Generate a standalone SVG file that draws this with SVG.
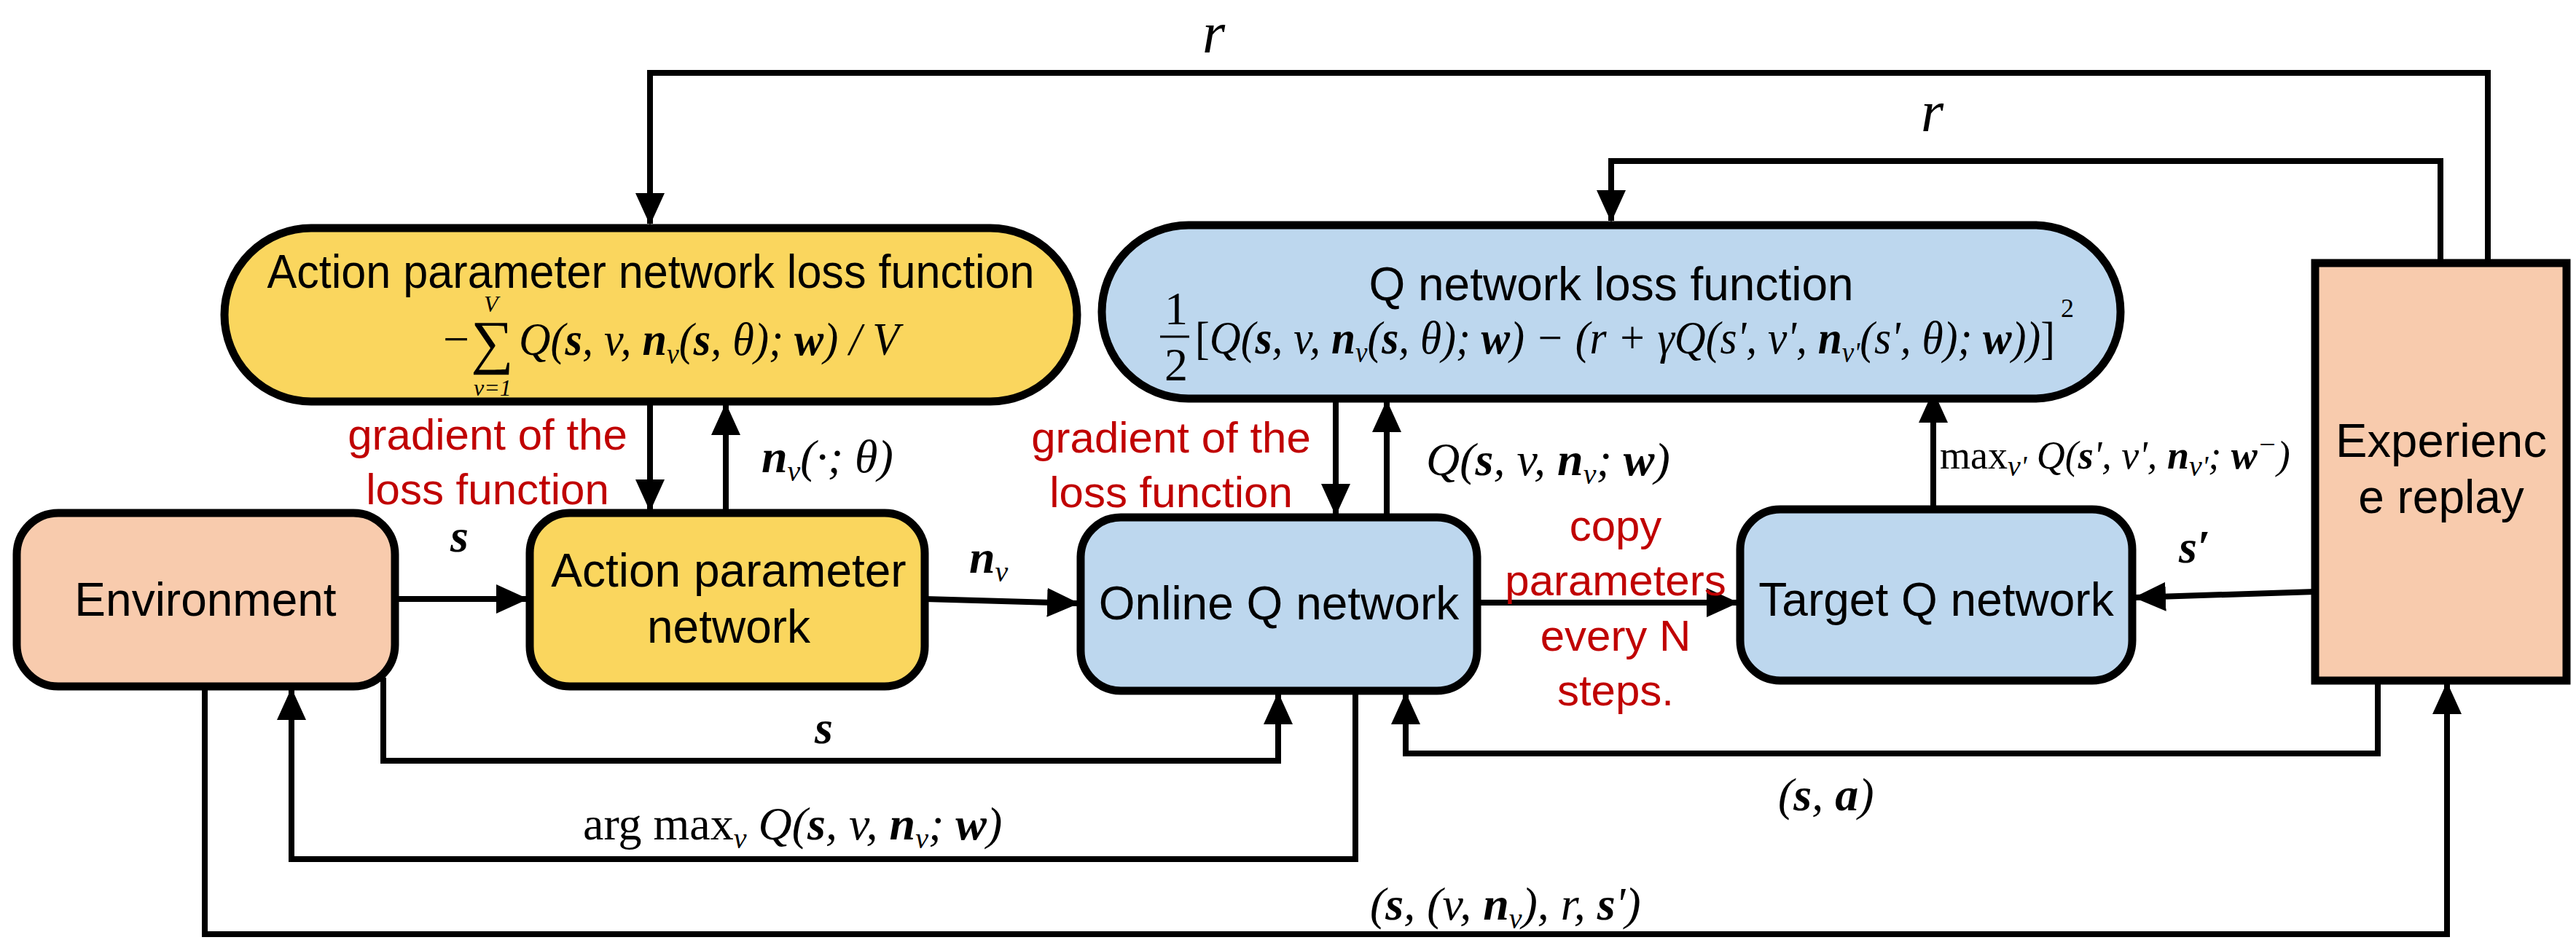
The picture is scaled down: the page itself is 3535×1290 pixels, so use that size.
<svg xmlns="http://www.w3.org/2000/svg" width="3535" height="1290" viewBox="0 0 3535 1290">
<style>
.box{stroke:#000;stroke-width:11}
.or{fill:#F8CBAD}.ye{fill:#FAD65E}.bl{fill:#BDD7EE}
.lbl{font-family:"Liberation Sans Narrow","Liberation Sans",Arial,sans-serif;font-size:64px;fill:#000;text-anchor:middle}
.red{font-family:"Liberation Sans Narrow","Liberation Sans",Arial,sans-serif;font-size:60px;fill:#C00000;text-anchor:middle}
.m{font-family:"Liberation Serif","Times New Roman",serif;font-size:64px;font-style:italic;fill:#000}
.b{font-weight:bold}
.u{font-style:normal}
.s{font-size:40px}
.c line,.c polyline{fill:none;stroke:#000;stroke-width:8}
</style>
<defs>
<marker id="ah" markerUnits="userSpaceOnUse" markerWidth="44" markerHeight="44" refX="42" refY="20" orient="auto">
<path d="M0,0 L44,20 L0,40 Z" fill="#000"/>
</marker>
</defs>
<rect width="3535" height="1290" fill="#fff"/>
<g class="c" id="connectors">
<polyline points="3414,361 3414,100 892,100 892,307" marker-end="url(#ah)"/>
<polyline points="3349,361 3349,221 2211,221 2211,303" marker-end="url(#ah)"/>
<line x1="892" y1="551" x2="892" y2="700" marker-end="url(#ah)"/>
<line x1="996" y1="704" x2="996" y2="555" marker-end="url(#ah)"/>
<line x1="542" y1="822" x2="723" y2="822" marker-end="url(#ah)"/>
<line x1="1269" y1="822" x2="1479" y2="828" marker-end="url(#ah)"/>
<polyline points="526,930 526,1044 1754,1044 1754,952" marker-end="url(#ah)"/>
<polyline points="1860,948 1860,1179 400,1179 400,946" marker-end="url(#ah)"/>
<polyline points="281,942 281,1282 3358,1282 3358,938" marker-end="url(#ah)"/>
<line x1="1833" y1="547" x2="1833" y2="706" marker-end="url(#ah)"/>
<line x1="1903" y1="710" x2="1903" y2="551" marker-end="url(#ah)"/>
<line x1="2027" y1="827" x2="2384" y2="827" marker-end="url(#ah)"/>
<line x1="2653" y1="699" x2="2653" y2="538" marker-end="url(#ah)"/>
<line x1="3177" y1="812" x2="2930" y2="820" marker-end="url(#ah)"/>
<polyline points="3263,934 3263,1034 1929,1034 1929,952" marker-end="url(#ah)"/>
</g>
<g id="environment"><rect class="box or" x="23" y="704" width="519" height="238" rx="57"/><text class="lbl" x="282" y="845">Environment</text></g>
<g id="action-loss"><rect class="box ye" x="308" y="313" width="1170" height="238" rx="119"/>
<text class="lbl" x="893" y="395" textLength="1053" lengthAdjust="spacingAndGlyphs">Action parameter network loss function</text>
<text class="m u" x="608" y="487">−</text><text class="m u" x="646" y="497" style="font-size:82px">∑</text>
<text class="m s" x="664" y="428" style="font-size:32px">V</text><text class="m s" x="650" y="543" style="font-size:32px">v=1</text>
<text class="m" x="712" y="487" textLength="522" lengthAdjust="spacingAndGlyphs">Q(<tspan class="b">s</tspan>, v, <tspan class="b">n</tspan><tspan class="s" dy="12">v</tspan><tspan dy="-12">(</tspan><tspan class="b">s</tspan>, θ); <tspan class="b">w</tspan>) / V</text>
</g>
<g id="action-net"><rect class="box ye" x="727" y="704" width="542" height="238" rx="55"/><text class="lbl" x="1000" y="805">Action parameter</text><text class="lbl" x="1000" y="882">network</text></g>
<g id="q-loss"><rect class="box bl" x="1512" y="309" width="1398" height="238" rx="119"/>
<text class="lbl" x="2211" y="412">Q network loss function</text>
<text class="m u" x="1598" y="445">1</text><line x1="1592" y1="462" x2="1632" y2="462" stroke="#000" stroke-width="3"/><text class="m u" x="1598" y="522">2</text>
<text class="m" x="1640" y="485" textLength="1180" lengthAdjust="spacingAndGlyphs"><tspan class="u">[</tspan>Q(<tspan class="b">s</tspan>, v, <tspan class="b">n</tspan><tspan class="s" dy="12">v</tspan><tspan dy="-12">(</tspan><tspan class="b">s</tspan>, θ); <tspan class="b">w</tspan>) − (r + γQ(s', v', <tspan class="b">n</tspan><tspan class="s" dy="12">v'</tspan><tspan dy="-12">(s', θ); </tspan><tspan class="b">w</tspan>))<tspan class="u">]</tspan></text>
<text class="m u" x="2828" y="435" style="font-size:36px">2</text>
</g>
<g id="online-q"><rect class="box bl" x="1483" y="710" width="544" height="238" rx="55"/><text class="lbl" x="1755" y="850">Online Q network</text></g>
<g id="target-q"><rect class="box bl" x="2388" y="699" width="538" height="235" rx="55"/><text class="lbl" x="2657" y="845">Target Q network</text></g>
<g id="experience"><rect class="box or" x="3177" y="361" width="345" height="573"/><text class="lbl" x="3350" y="627" textLength="290" lengthAdjust="spacingAndGlyphs">Experienc</text><text class="lbl" x="3350" y="704">e replay</text></g>
<g id="labels">
<text class="m" x="1650" y="72" style="font-size:80px">r</text>
<text class="m" x="2636" y="180" style="font-size:80px">r</text>
<text class="red" x="669" y="617">gradient of the</text><text class="red" x="669" y="692">loss function</text>
<text class="red" x="1607" y="621">gradient of the</text><text class="red" x="1607" y="696">loss function</text>
<text class="m" x="1045" y="648"><tspan class="b">n</tspan><tspan class="s" dy="12">v</tspan><tspan dy="-12">(·; θ)</tspan></text>
<text class="m b" x="618" y="757">s</text>
<text class="m" x="1330" y="786"><tspan class="b">n</tspan><tspan class="s" dy="12">v</tspan></text>
<text class="m b" x="1118" y="1020">s</text>
<text class="m" x="800" y="1152"><tspan class="u">arg max</tspan><tspan class="s" dy="12">v</tspan><tspan dy="-12"> Q(</tspan><tspan class="b">s</tspan>, v, <tspan class="b">n</tspan><tspan class="s" dy="12">v</tspan><tspan dy="-12">; </tspan><tspan class="b">w</tspan>)</text>
<text class="m" x="1957" y="652">Q(<tspan class="b">s</tspan>, v, <tspan class="b">n</tspan><tspan class="s" dy="12">v</tspan><tspan dy="-12">; </tspan><tspan class="b">w</tspan>)</text>
<text class="red" x="2217" y="742">copy</text><text class="red" x="2217" y="817">parameters</text><text class="red" x="2217" y="893">every N</text><text class="red" x="2217" y="968">steps.</text>
<text class="m" x="2662" y="643" style="font-size:54px"><tspan class="u">max</tspan><tspan class="s" dy="10">v'</tspan><tspan dy="-10"> Q(</tspan><tspan class="b">s</tspan>', v', <tspan class="b">n</tspan><tspan class="s" dy="10">v'</tspan><tspan dy="-10">; </tspan><tspan class="b">w</tspan><tspan class="s" dy="-20">−</tspan><tspan dy="20">)</tspan></text>
<text class="m b" x="2990" y="772">s′</text>
<text class="m" x="2440" y="1112">(<tspan class="b">s</tspan>, <tspan class="b">a</tspan>)</text>
<text class="m" x="1880" y="1262">(<tspan class="b">s</tspan>, (v, <tspan class="b">n</tspan><tspan class="s" dy="12">v</tspan><tspan dy="-12">), r, </tspan><tspan class="b">s</tspan>')</text>
</g>
</svg>
